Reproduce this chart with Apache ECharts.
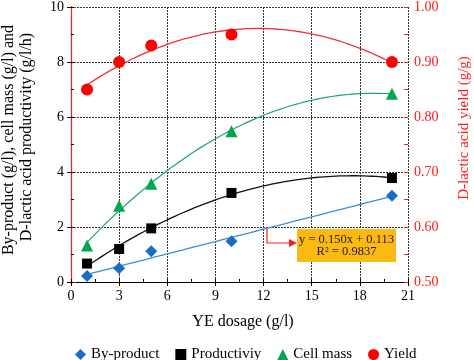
<!DOCTYPE html>
<html>
<head>
<meta charset="utf-8">
<script src="https://cdn.jsdelivr.net/npm/echarts@6/dist/echarts.min.js"></script>
<style>
html,body{margin:0;padding:0;background:#fff;}
#chart{width:474px;height:360px;}
</style>
</head>
<body>
<div id="chart"></div>
<script>
// ---- data ----
const xDosage = [1, 3, 5, 10, 20];
const byProduct = [0.22, 0.50, 1.12, 1.48, 3.14];
const productivity = [0.67, 1.20, 1.95, 3.24, 3.78];
const cellMass = [1.33, 2.77, 3.57, 5.48, 6.85];
const yieldVals = [0.85, 0.90, 0.93, 0.95, 0.90];
const seriesNames = ['By-product', 'Productiviy', 'Cell mass', 'Yield'];
const fitLabel = ['y = 0.150x + 0.113', 'R\u00b2 = 0.9837'];
const xAxisTitle = 'YE dosage (g/l)';
const leftTitle = ['By-product (g/l), cell mass (g/l) and', 'D-lactic acid productivity (g/l/h)'];
const rightTitle = 'D-lactic acid yield (g/g)';

// ---- trendlines: least-squares polynomial fits of the data ----
function polyfit(xs, ys, deg) {
  const n = deg + 1;
  const A = [];
  for (let i = 0; i < n; i++) {
    A.push(new Array(n + 1).fill(0));
    for (let j = 0; j < n; j++) {
      let s = 0; xs.forEach(x => s += Math.pow(x, i + j)); A[i][j] = s;
    }
    let t = 0; xs.forEach((x, k) => t += Math.pow(x, i) * ys[k]); A[i][n] = t;
  }
  for (let c = 0; c < n; c++) {
    let p = c;
    for (let r = c + 1; r < n; r++) if (Math.abs(A[r][c]) > Math.abs(A[p][c])) p = r;
    const tmp = A[c]; A[c] = A[p]; A[p] = tmp;
    for (let r = 0; r < n; r++) {
      if (r === c) continue;
      const f = A[r][c] / A[c][c];
      for (let k = c; k <= n; k++) A[r][k] -= f * A[c][k];
    }
  }
  return A.map((row, i) => row[n] / row[i]);
}
function curve(xs, ys, deg) {
  const co = polyfit(xs, ys, deg);
  const out = [];
  const x0 = xs[0], x1 = xs[xs.length - 1];
  for (let x = x0; x <= x1 + 1e-9; x += 0.25) {
    let y = 0; co.forEach((c, i) => y += c * Math.pow(x, i));
    out.push([x, y]);
  }
  return out;
}
const pairs = ys => xDosage.map((x, i) => [x, ys[i]]);

const FONT = '"Liberation Serif", "Times New Roman", serif';
const RED = '#ff1a1a';
const gridLine = { show: true, lineStyle: { color: '#333', width: 1, type: [2, 1] } };

const chart = echarts.init(document.getElementById('chart'), null, { renderer: 'canvas' });
chart.setOption({
  animation: false,
  backgroundColor: '#fff',
  textStyle: { fontFamily: FONT },
  grid: { left: 71, right: 66, top: 7, bottom: 78 },
  legend: {
    data: seriesNames,
    left: 70, top: 342,
    itemWidth: 11, itemHeight: 11, itemGap: 16,
    textStyle: { fontFamily: FONT, fontSize: 15, color: '#000' }
  },
  xAxis: [
    {
      type: 'value', min: 0, max: 21, interval: 3,
      axisLine: { show: true, lineStyle: { color: '#000', width: 1 } },
      axisTick: { show: true, length: 4, lineStyle: { color: '#000' } },
      axisLabel: { fontFamily: FONT, fontSize: 14, color: '#000', margin: 7 },
      splitLine: gridLine
    },
    {
      type: 'value', min: 0, max: 21, interval: 1.5, position: 'bottom',
      axisLine: { show: false },
      axisTick: { show: true, inside: true, length: 3, lineStyle: { color: '#000' } },
      axisLabel: { show: false }, splitLine: { show: false }
    }
  ],
  yAxis: [
    {
      type: 'value', min: 0, max: 10, interval: 2, position: 'left',
      axisLine: { show: true, lineStyle: { color: '#000', width: 1 } },
      axisTick: { show: true, length: 4, lineStyle: { color: '#000' } },
      axisLabel: { fontFamily: FONT, fontSize: 14, color: '#000', margin: 7 },
      splitLine: gridLine
    },
    {
      type: 'value', min: 0.5, max: 1.0, interval: 0.1, position: 'right',
      axisLine: { show: true, lineStyle: { color: RED, width: 1.2 } },
      axisTick: { show: true, length: 5, lineStyle: { color: RED } },
      axisLabel: { fontFamily: FONT, fontSize: 14, color: RED, margin: 6, formatter: v => v.toFixed(2) },
      splitLine: { show: false }
    },
    {
      type: 'value', min: 0, max: 10, interval: 1, position: 'left',
      axisLine: { show: false },
      axisTick: { show: true, inside: true, length: 3, lineStyle: { color: '#000' } },
      axisLabel: { show: false }, splitLine: { show: false }
    },
    {
      type: 'value', min: 0.5, max: 1.0, interval: 0.05, position: 'right',
      axisLine: { show: false },
      axisTick: { show: true, inside: true, length: 4, lineStyle: { color: RED } },
      axisLabel: { show: false }, splitLine: { show: false }
    }
  ],
  series: [
    { type: 'line', data: curve(xDosage, byProduct, 1), showSymbol: false, silent: true,
      lineStyle: { color: '#3a8fd6', width: 1.3 }, z: 2 },
    { type: 'line', data: curve(xDosage, productivity, 2), showSymbol: false, silent: true,
      lineStyle: { color: '#111', width: 1.3 }, z: 2 },
    { type: 'line', data: curve(xDosage, cellMass, 2), showSymbol: false, silent: true,
      lineStyle: { color: '#1aa866', width: 1.2 }, z: 2 },
    { type: 'line', yAxisIndex: 1, data: curve(xDosage, yieldVals, 2), showSymbol: false, silent: true,
      lineStyle: { color: '#f0303a', width: 1.3 }, z: 2 },
    { name: seriesNames[0], type: 'scatter', data: pairs(byProduct), symbol: 'diamond', symbolSize: 12,
      itemStyle: { color: '#1a6dc2', opacity: 1 }, z: 5 },
    { name: seriesNames[1], type: 'scatter', data: pairs(productivity), symbol: 'rect', symbolSize: 10,
      itemStyle: { color: '#000', opacity: 1 }, z: 5 },
    { name: seriesNames[2], type: 'scatter', data: pairs(cellMass), symbol: 'triangle', symbolSize: 12,
      itemStyle: { color: '#00a651', opacity: 1 }, z: 5 },
    { name: seriesNames[3], type: 'scatter', yAxisIndex: 1, data: pairs(yieldVals), symbol: 'circle', symbolSize: 12,
      itemStyle: { color: '#ff0000', opacity: 1 }, z: 5 }
  ],
  graphic: [
    { type: 'text', x: 243, y: 322, style: { text: xAxisTitle, font: '16px ' + FONT, fill: '#000', textAlign: 'center', textVerticalAlign: 'middle' } },
    { type: 'text', x: 9, y: 140, rotation: Math.PI / 2, style: { text: leftTitle[0], font: '16px ' + FONT, fill: '#000', textAlign: 'center', textVerticalAlign: 'middle' } },
    { type: 'text', x: 27, y: 137, rotation: Math.PI / 2, style: { text: leftTitle[1], font: '16px ' + FONT, fill: '#000', textAlign: 'center', textVerticalAlign: 'middle' } },
    { type: 'text', x: 464, y: 128, rotation: Math.PI / 2, style: { text: rightTitle, font: '15px ' + FONT, fill: RED, textAlign: 'center', textVerticalAlign: 'middle' } },
    { type: 'rect', shape: { x: 297, y: 229, width: 99, height: 33 }, style: { fill: '#fdb913' }, z: 10 },
    { type: 'text', x: 346.5, y: 239.5, style: { text: fitLabel[0], font: '12.5px ' + FONT, fill: '#222', textAlign: 'center', textVerticalAlign: 'middle' }, z: 11 },
    { type: 'text', x: 346.5, y: 252, style: { text: fitLabel[1], font: '12.5px ' + FONT, fill: '#222', textAlign: 'center', textVerticalAlign: 'middle' }, z: 11 },
    { type: 'polyline', shape: { points: [[267, 229], [267, 243], [290, 243]] }, style: { stroke: RED, lineWidth: 1.2, fill: null }, z: 10 },
    { type: 'polygon', shape: { points: [[289, 239], [297, 243], [289, 247]] }, style: { fill: RED }, z: 10 }
  ]
});
</script>
</body>
</html>
